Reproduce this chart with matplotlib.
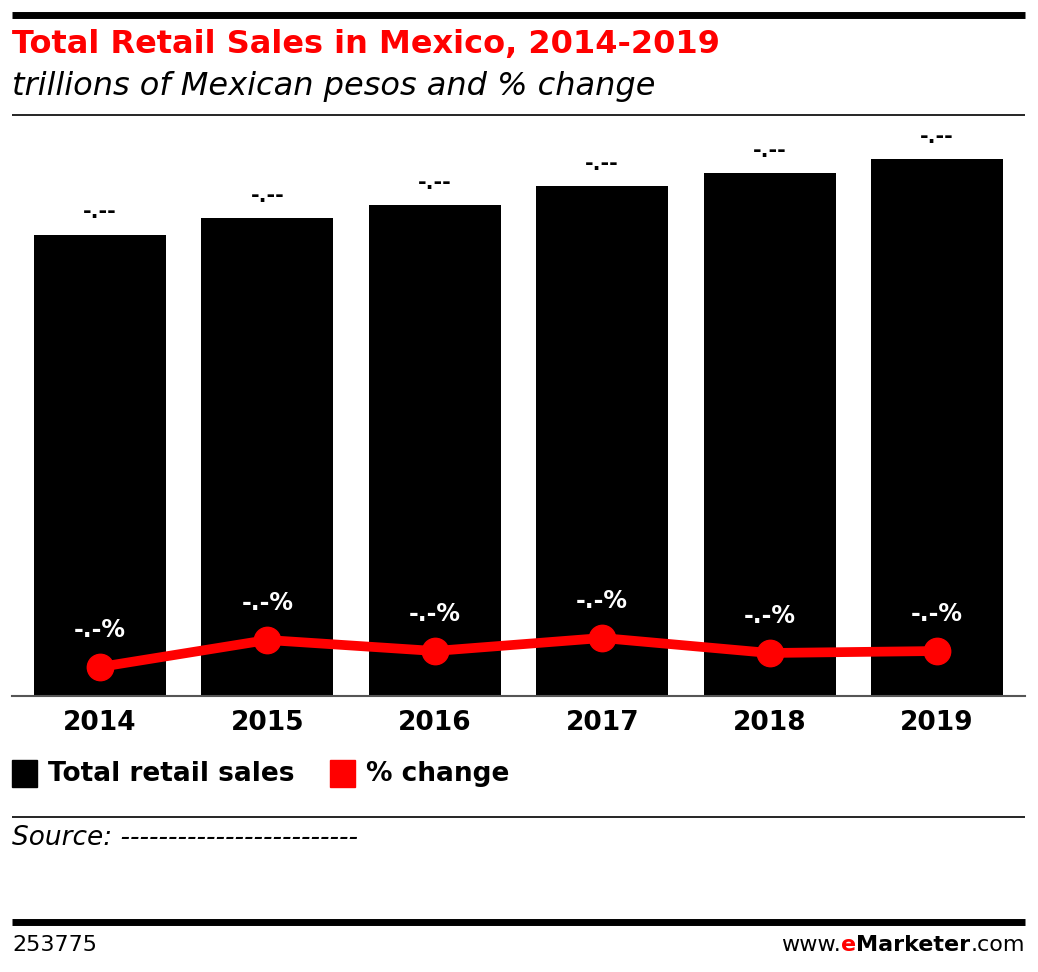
import matplotlib
matplotlib.use("Agg")
import matplotlib.pyplot as plt
from matplotlib.lines import Line2D
from matplotlib.patches import Rectangle

years = ["2014", "2015", "2016", "2017", "2018", "2019"]
sales = [4.61, 4.78, 4.91, 5.10, 5.23, 5.37]
pct_change = [2.9, 5.6, 4.5, 5.8, 4.3, 4.5]
sales_labels = ["-.--"] * 6
pct_labels = ["-.-%"] * 6

RED = "#ff0000"
W, H = 1038, 972

fig = plt.figure(figsize=(W / 100, H / 100), dpi=100)


def fy(y):
    return 1 - y / H


def fx(x):
    return x / W


ax = fig.add_axes([fx(12), fy(696), fx(1025) - fx(12), fy(130) - fy(696)])
x = list(range(len(years)))
ax.bar(x, sales, width=0.79, color="black", zorder=2)
ax.set_xlim(-0.525, 5.525)
ax.set_ylim(0, 5.66)
for i, v in enumerate(sales):
    ax.annotate(sales_labels[i], (i, v), xytext=(0, 9), textcoords="offset points",
                ha="center", va="bottom", fontsize=15, fontweight="bold", color="black")

ax2 = ax.twinx()
ax2.set_ylim(0, 56.6)
ax2.plot(x, pct_change, color=RED, lw=7, marker="o", markersize=19, zorder=3,
         solid_capstyle="round")
for i, v in enumerate(pct_change):
    ax2.annotate(pct_labels[i], (i, v), xytext=(0, 18), textcoords="offset points",
                 ha="center", va="bottom", fontsize=17, fontweight="bold", color="white")

for a in (ax, ax2):
    for s in a.spines.values():
        s.set_visible(False)
    a.set_yticks([])
ax.spines["bottom"].set_visible(True)
ax.spines["bottom"].set_color("#555555")
ax.spines["bottom"].set_linewidth(1.5)
ax.set_xticks(x)
ax.set_xticklabels(years, fontsize=19, fontweight="heavy")
ax.tick_params(axis="x", length=0, pad=10)

# rules
for y, lw in [(15, 5), (115, 1.2), (817, 1.2), (922, 5)]:
    fig.add_artist(Line2D([fx(12), fx(1025)], [fy(y), fy(y)], color="black", lw=lw,
                          solid_capstyle="butt"))

# titles
fig.text(fx(12), fy(45), "Total Retail Sales in Mexico, 2014-2019", color=RED,
         fontsize=23, fontweight="bold", va="center", ha="left")
fig.text(fx(12), fy(87), "trillions of Mexican pesos and % change", color="black",
         fontsize=23, style="italic", va="center", ha="left")

# legend
fig.add_artist(Rectangle((fx(12), fy(787)), fx(25), fy(760) - fy(787),
                         color="black", transform=fig.transFigure))
fig.text(fx(48), fy(774), "Total retail sales", fontsize=19, fontweight="bold",
         va="center", ha="left")
fig.add_artist(Rectangle((fx(330), fy(787)), fx(25), fy(760) - fy(787),
                         color=RED, transform=fig.transFigure))
fig.text(fx(366), fy(774), "% change", fontsize=19, fontweight="bold",
         va="center", ha="left")

# source and footer
fig.text(fx(12), fy(838), "Source: -------------------------", fontsize=19,
         style="italic", va="center", ha="left")
fig.text(fx(12), fy(945), "253775", fontsize=16, va="center", ha="left")

renderer = fig.canvas.get_renderer()
xr = fx(1025)
parts = [(".com", "normal", "black"), ("Marketer", "bold", "black"),
         ("e", "bold", RED), ("www.", "normal", "black")]
for txt, wt, col in parts:
    t = fig.text(xr, fy(945), txt, fontsize=16, fontweight=wt, color=col,
                 va="center", ha="right")
    bb = t.get_window_extent(renderer)
    xr -= bb.width / W

fig.savefig("out.png", dpi=100)
